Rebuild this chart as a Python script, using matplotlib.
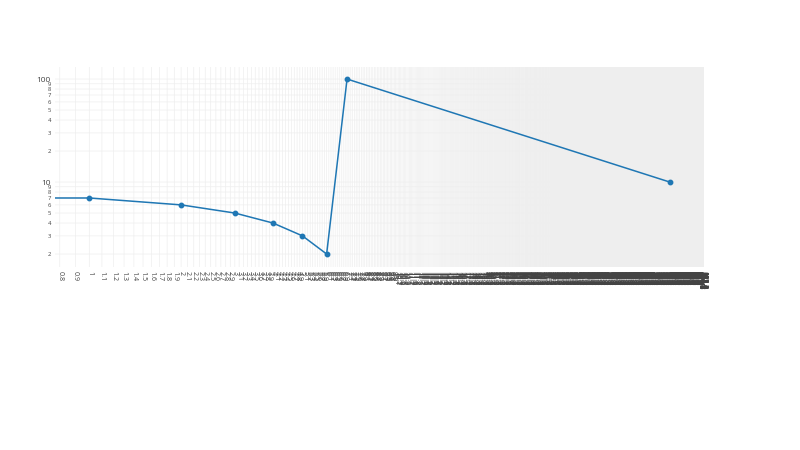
import numpy as np
import matplotlib
matplotlib.use('Agg')
import matplotlib.pyplot as plt
from matplotlib.ticker import FixedLocator, FuncFormatter

plt.rcParams['font.family'] = ['Open Sans', 'DejaVu Sans']

# dados
valoresX = [0, 1, 2, 3, 4, 5, 6, 7, 80]
valoresY = [7, 7, 6, 5, 4, 3, 2, 100, 10]

# faixa dos eixos (em log10), como no autorange do original
faixaX = (-0.1125, 2.0155)
faixaY = (0.175, 2.117)

corLinha = '#1f77b4'
corTexto = '#444444'
corGrade = '#eeeeee'


def main():
    fig = plt.figure(figsize=(8, 4.5), dpi=100)
    ax = fig.add_axes([55 / 800, 1 - 267 / 450, 649 / 800, 200 / 450])

    ax.set_xscale('log')
    ax.set_yscale('log')

    # x <= 0 vai para bem longe à esquerda, como o plotly faz em eixo log
    spanX = faixaX[1] - faixaX[0]
    xs = np.array(valoresX, dtype=float)
    xs = np.where(xs > 0, xs, 10 ** (faixaX[0] - 2 * spanX))

    ax.plot(xs, valoresY, color=corLinha, linewidth=1.1, marker='o',
            markersize=3.2, zorder=3)

    ax.set_xlim(10 ** faixaX[0], 10 ** faixaX[1])
    ax.set_ylim(10 ** faixaY[0], 10 ** faixaY[1])

    # ticks do eixo x a cada 0.1 (dtick L0.1)
    ticksX = np.round(np.arange(8, 1036) / 10, 1)
    ax.xaxis.set_major_locator(FixedLocator(ticksX))
    ax.xaxis.set_major_formatter(FuncFormatter(lambda v, p: '%g' % round(v, 1)))
    ax.xaxis.set_minor_locator(FixedLocator([]))
    ax.tick_params(axis='x', which='major', length=0, pad=3, labelsize=5.1,
                   labelcolor=corTexto, labelrotation=-90)

    # eixo y com dígitos menores (D1)
    maioresY = [10, 100]
    menoresY = [d * 10 ** e for e in (0, 1) for d in range(2, 10)]
    ax.yaxis.set_major_locator(FixedLocator(maioresY))
    ax.yaxis.set_major_formatter(FuncFormatter(lambda v, p: '%g' % v))
    ax.yaxis.set_minor_locator(FixedLocator(menoresY))
    ax.yaxis.set_minor_formatter(FuncFormatter(lambda v, p: '%d' % round(v / 10 ** np.floor(np.log10(v) + 1e-9))))
    ax.tick_params(axis='y', which='major', length=0, pad=3, labelsize=6,
                   labelcolor=corTexto)
    ax.tick_params(axis='y', which='minor', length=0, pad=3, labelsize=4.2,
                   labelcolor=corTexto)

    for rotulo in ax.get_xticklabels():
        rotulo.set_horizontalalignment('center')
        rotulo.set_verticalalignment('top')

    # grade fina, sem encaixe no pixel, para clarear como no original
    ax.grid(True, which='both', color=corGrade, linewidth=0.5, zorder=0)
    ticks = (ax.xaxis.get_major_ticks() + ax.yaxis.get_major_ticks()
             + ax.yaxis.get_minor_ticks())
    for t in ticks:
        t.gridline.set_snap(False)
    ax.set_axisbelow(True)
    for lado in ax.spines.values():
        lado.set_visible(False)

    fig.savefig('out.png', dpi=100)


if __name__ == "__main__":
    main()
